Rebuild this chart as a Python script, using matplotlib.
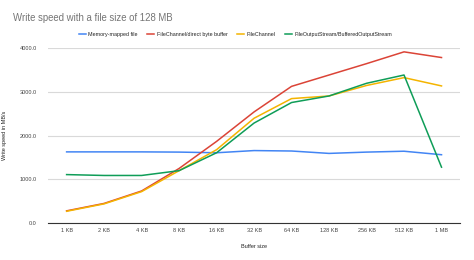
import matplotlib.pyplot as plt

plt.rcParams['font.family'] = ['Liberation Sans', 'DejaVu Sans']

# buffer sizes and measured write speeds (MB/s)
buffer_sizes = ['1 KB', '2 KB', '4 KB', '8 KB', '16 KB', '32 KB', '64 KB',
                '128 KB', '256 KB', '512 KB', '1 MB']
mmap = [1630, 1630, 1630, 1625, 1610, 1660, 1650, 1595, 1625, 1645, 1565]
direct_buf = [280, 450, 735, 1250, 1870, 2545, 3130, 3390, 3650, 3920, 3790]
channel = [270, 440, 720, 1200, 1680, 2400, 2850, 2910, 3150, 3330, 3140]
stream = [1110, 1090, 1090, 1200, 1610, 2290, 2760, 2910, 3200, 3390, 1280]

series = [
    ('Memory-mapped file', mmap, '#4285F4'),
    ('FileChannel/direct byte buffer', direct_buf, '#DB4437'),
    ('FileChannel', channel, '#F4B400'),
    ('FileOutputStream/BufferedOutputStream', stream, '#0F9D58'),
]

fig = plt.figure(figsize=(4.74, 2.6), dpi=100)
ax = fig.add_axes([0.101, 0.142, 0.870, 0.672])

x = range(len(buffer_sizes))
for label, vals, color in series:
    ax.plot(x, vals, color=color, lw=1.1, label=label)

ax.set_xlim(-0.5, len(buffer_sizes) - 0.5)
ax.set_ylim(0, 4000)
ax.set_yticks([0, 1000, 2000, 3000, 4000])
ax.set_yticklabels(['0.0', '1000.0', '2000.0', '3000.0', '4000.0'])
ax.set_xticks(list(x))
ax.set_xticklabels(buffer_sizes)
ax.tick_params(length=0, labelsize=4, colors='#444444')
ax.tick_params(axis='y', pad=8)
ax.tick_params(axis='x', pad=3.5)
ax.grid(axis='y', color='#d9d9d9', lw=0.8)
ax.set_axisbelow(True)
for s in ['top', 'right', 'left']:
    ax.spines[s].set_visible(False)
ax.spines['bottom'].set_color('#333333')
ax.spines['bottom'].set_linewidth(0.8)

ax.set_xlabel('Buffer size', fontsize=4, color='#222222', labelpad=8)
ax.set_ylabel('Write speed in MB/s', fontsize=4, color='#222222', labelpad=9)

fig.text(0.027, 0.93, 'Write speed with a file size of 128 MB', fontsize=6.9,
         color='#757575', va='center')
fig.legend(loc='center', bbox_to_anchor=(0.497, 0.869), ncol=4, frameon=False,
           fontsize=3.9, handlelength=1.3, handletextpad=0.5, columnspacing=1.7,
           labelcolor='#222222')

fig.savefig('out.png', dpi=100)
